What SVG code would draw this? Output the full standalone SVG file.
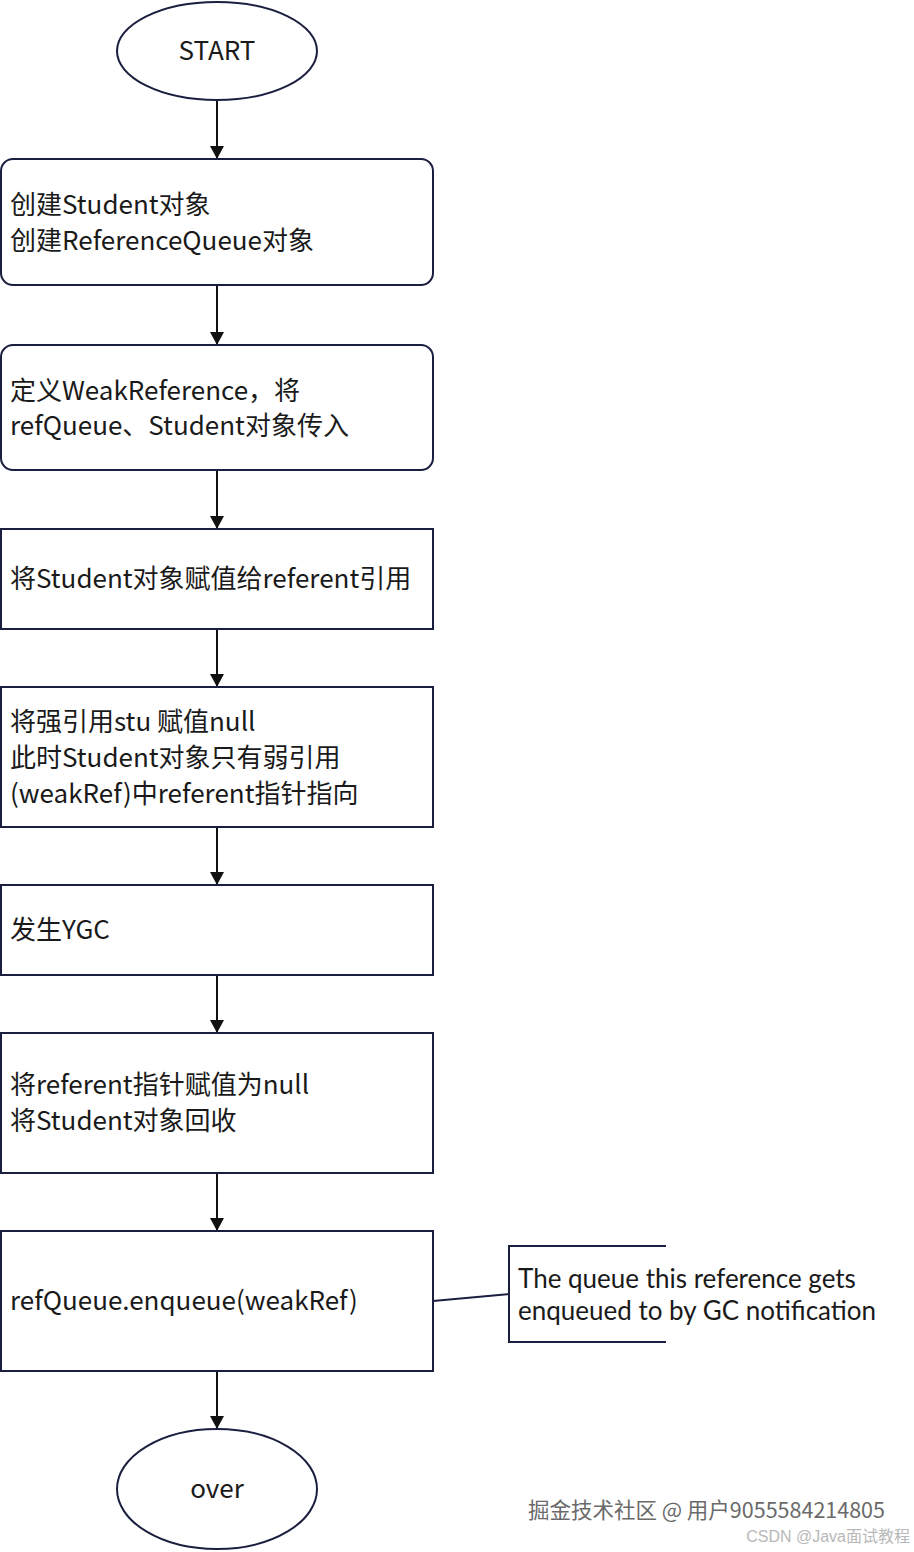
<svg xmlns="http://www.w3.org/2000/svg" width="914" height="1552" viewBox="0 0 914 1552">
<style>
.shape{fill:#ffffff;stroke:#1b1f3f;stroke-width:2}
.t{font-family:"Noto Sans CJK SC","Noto Sans",sans-serif;font-size:26px;fill:#1a1a1a}
.n{font-family:Lato,"Noto Sans",sans-serif;font-size:26px;fill:#1a1a1a}
.c{text-anchor:middle}
.conn{stroke:#111111;stroke-width:2;fill:none}
.wm{font-family:"Noto Sans CJK SC",sans-serif}
</style>
<defs>
<marker id="arr" markerWidth="14" markerHeight="14" refX="13" refY="7" orient="auto" markerUnits="userSpaceOnUse">
<path d="M0,0 L13,7 L0,14 Z" fill="#111111"/>
</marker>
</defs>
<rect width="914" height="1552" fill="#ffffff"/>
<g id="connectors">
<line class="conn" x1="217" y1="100" x2="217" y2="159" marker-end="url(#arr)"/>
<line class="conn" x1="217" y1="285" x2="217" y2="345" marker-end="url(#arr)"/>
<line class="conn" x1="217" y1="470" x2="217" y2="529" marker-end="url(#arr)"/>
<line class="conn" x1="217" y1="629" x2="217" y2="687" marker-end="url(#arr)"/>
<line class="conn" x1="217" y1="827" x2="217" y2="885" marker-end="url(#arr)"/>
<line class="conn" x1="217" y1="975" x2="217" y2="1033" marker-end="url(#arr)"/>
<line class="conn" x1="217" y1="1173" x2="217" y2="1231" marker-end="url(#arr)"/>
<line class="conn" x1="217" y1="1371" x2="217" y2="1429" marker-end="url(#arr)"/>
<line x1="433" y1="1301" x2="510" y2="1294" stroke="#1b1f3f" stroke-width="2"/>
</g>
<g id="start">
<ellipse class="shape" cx="217" cy="51" rx="100" ry="49"/>
<text class="t c" x="217" y="60">START</text>
</g>
<g id="n1">
<rect class="shape" x="1" y="159" width="432" height="126" rx="12"/>
<text class="t" x="10" y="214">创建Student对象</text>
<text class="t" x="10" y="250">创建ReferenceQueue对象</text>
</g>
<g id="n2">
<rect class="shape" x="1" y="345" width="432" height="125" rx="12"/>
<text class="t" x="10" y="400">定义WeakReference，将</text>
<text class="t" x="10" y="435">refQueue、Student对象传入</text>
</g>
<g id="n3">
<rect class="shape" x="1" y="529" width="432" height="100"/>
<text class="t" x="10" y="588">将Student对象赋值给referent引用</text>
</g>
<g id="n4">
<rect class="shape" x="1" y="687" width="432" height="140"/>
<text class="t" x="10" y="731">将强引用stu 赋值null</text>
<text class="t" x="10" y="767">此时Student对象只有弱引用</text>
<text class="t" x="10" y="803">(weakRef)中referent指针指向</text>
</g>
<g id="n5">
<rect class="shape" x="1" y="885" width="432" height="90"/>
<text class="t" x="10" y="939">发生YGC</text>
</g>
<g id="n6">
<rect class="shape" x="1" y="1033" width="432" height="140"/>
<text class="t" x="10" y="1094">将referent指针赋值为null</text>
<text class="t" x="10" y="1130">将Student对象回收</text>
</g>
<g id="n7">
<rect class="shape" x="1" y="1231" width="432" height="140"/>
<text class="t" x="10" y="1310">refQueue.enqueue(weakRef)</text>
</g>
<g id="note">
<path d="M666,1246 L509,1246 L509,1342 L666,1342" fill="none" stroke="#1b1f3f" stroke-width="2"/>
<text class="n" x="518" y="1288">The queue this reference gets</text>
<text class="n" x="518" y="1320">enqueued to by GC notification</text>
</g>
<g id="over">
<ellipse class="shape" cx="217" cy="1489" rx="100" ry="60"/>
<text class="t c" x="217" y="1498">over</text>
</g>
<g id="watermark">
<text class="wm" x="886" y="1519" font-size="21.5" fill="#ffffff" text-anchor="end" transform="translate(1,1)">掘金技术社区 @ 用户9055584214805</text>
<text class="wm" x="885" y="1518" font-size="21.5" fill="#6a6a6a" text-anchor="end">掘金技术社区 @ 用户9055584214805</text>
<text x="910" y="1542" font-family="Liberation Sans, Noto Sans CJK SC, sans-serif" font-size="16" fill="#b8b8b8" text-anchor="end">CSDN @Java面试教程</text>
</g>
</svg>
